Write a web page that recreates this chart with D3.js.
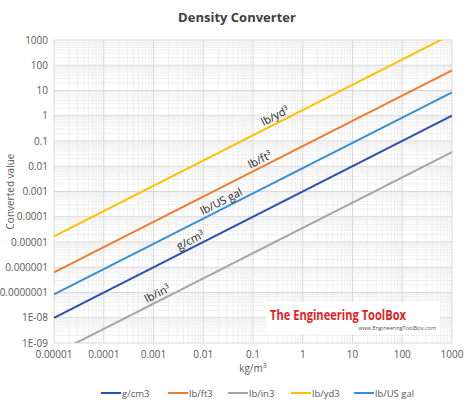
<!DOCTYPE html><html><head><meta charset="utf-8"><script src="https://cdn.jsdelivr.net/npm/d3@7"></script>
<style>body{margin:0;background:#fff}text{font-family:"Open Sans",Calibri,sans-serif}</style></head><body><svg id="c" width="474" height="410"></svg><script>
const xValues=[0.00001,1000];
const seriesNames=["g/cm3","lb/ft3","lb/in3","lb/yd3","lb/US gal"];
const seriesColors=["#2f4fb0","#ed7d31","#a5a5a5","#ffc000","#3a8fd4"];
const seriesValues=[[1e-8,1],[6.2428e-7,62.428],[3.6127e-10,0.036127],[1.6856e-5,1685.6],[8.3454e-8,8.3454]];
const xTicks=["0.00001","0.0001","0.001","0.01","0.1","1","10","100","1000"];
const yTicks=["1E-09","1E-08","0.0000001","0.000001","0.00001","0.0001","0.001","0.01","0.1","1","10","100","1000"];
const lineLabels=[{t:"lb/yd",s:"3",x:0.3,i:3},{t:"lb/ft",s:"3",x:0.15,i:1},{t:"lb/US gal",s:"",x:0.025,i:4},{t:"g/cm",s:"3",x:0.006,i:0},{t:"lb/in",s:"3",x:0.0013,i:2}];
const svg=d3.select("#c");
const L=54,R=452,T=40,B=343;
const x=d3.scaleLog().domain([1e-5,1000]).range([L,R]);
const y=d3.scaleLog().domain([1e-9,1000]).range([B,T]);
const g=svg.append("g");
for(let e=-5;e<3;e++)for(let k=2;k<10;k++){const v=k*Math.pow(10,e);g.append("line").attr("x1",x(v)).attr("x2",x(v)).attr("y1",T).attr("y2",B).attr("stroke","#efefef");}
for(let e=-9;e<3;e++)for(let k=2;k<10;k++){const v=k*Math.pow(10,e);g.append("line").attr("y1",y(v)).attr("y2",y(v)).attr("x1",L).attr("x2",R).attr("stroke","#efefef");}
xTicks.forEach(t=>{const v=+t;g.append("line").attr("x1",x(v)).attr("x2",x(v)).attr("y1",T).attr("y2",B).attr("stroke","#d9d9d9");
 svg.append("text").attr("x",x(v)).attr("y",B+15).attr("text-anchor","middle").attr("font-size",10).attr("fill","#595959").text(t);});
yTicks.forEach(t=>{const v=+t;g.append("line").attr("y1",y(v)).attr("y2",y(v)).attr("x1",L).attr("x2",R).attr("stroke","#d9d9d9");
 svg.append("text").attr("x",L-6).attr("y",y(v)+3.5).attr("text-anchor","end").attr("font-size",10).attr("fill","#595959").text(t);});
svg.append("defs").append("clipPath").attr("id","cp").append("rect").attr("x",L).attr("y",T).attr("width",R-L).attr("height",B-T);
svg.append("rect").attr("x",266).attr("y",302).attr("width",174).attr("height",32).attr("fill","#fff");
svg.append("text").attr("x",270).attr("y",320).attr("font-family","'DejaVu Sans Condensed',sans-serif").attr("font-size",15).attr("fill","#e31e24").attr("font-weight","bold").attr("textLength",136).attr("lengthAdjust","spacingAndGlyphs").text("The Engineering ToolBox");
svg.append("text").attr("x",436).attr("y",330).attr("text-anchor","end").attr("font-size",5.5).attr("fill","#555").text("www.EngineeringToolBox.com");
const line=d3.line().x((d,i)=>x(xValues[i])).y(d=>y(d));
const lg=svg.append("g").attr("clip-path","url(#cp)");
seriesValues.forEach((s,i)=>lg.append("path").attr("d",line(s)).attr("fill","none").attr("stroke",seriesColors[i]).attr("stroke-width",2));
const ang=-Math.atan((y(1)-y(10))/(x(10)-x(1)))*180/Math.PI;
lineLabels.forEach(l=>{const v=seriesValues[l.i][0]*(l.x/xValues[0]);const px=x(l.x),py=y(v)-4;
 const t=svg.append("text").attr("transform",`translate(${px},${py}) rotate(${ang})`).attr("text-anchor","middle").attr("font-size",11).attr("fill","#222").text(l.t);
 if(l.s)t.append("tspan").attr("dy",-4).attr("font-size",7).text(l.s);});
svg.append("text").attr("x",237).attr("y",22).attr("text-anchor","middle").attr("font-size",13).attr("font-weight","bold").attr("fill","#404040").text("Density Converter");
svg.append("text").attr("transform",`translate(14,${(T+B)/2}) rotate(-90)`).attr("text-anchor","middle").attr("font-size",10).attr("fill","#595959").text("Converted value");
const xl=svg.append("text").attr("x",253).attr("y",372).attr("text-anchor","middle").attr("font-size",10).attr("fill","#595959").text("kg/m");
xl.append("tspan").attr("dy",-4).attr("font-size",7).text("3");
const lx=[101,168,228,291,354];
seriesNames.forEach((n,i)=>{svg.append("line").attr("x1",lx[i]).attr("x2",lx[i]+20).attr("y1",393).attr("y2",393).attr("stroke",seriesColors[i]).attr("stroke-width",2);
 svg.append("text").attr("x",lx[i]+21).attr("y",396.5).attr("font-size",9.5).attr("fill","#595959").text(n);});
</script></body></html>
